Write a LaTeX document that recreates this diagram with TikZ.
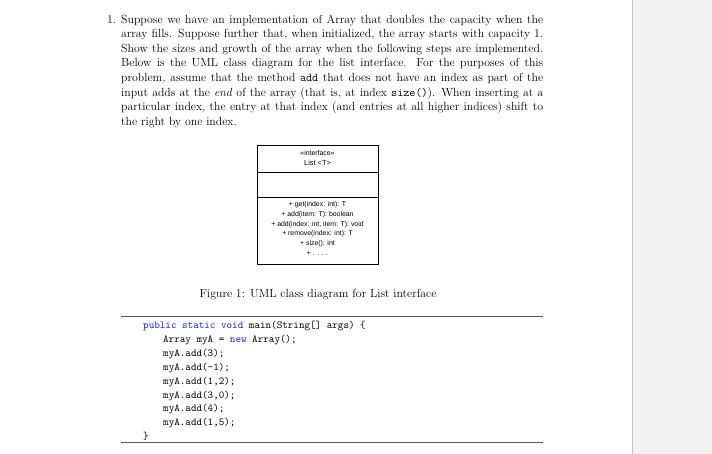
\documentclass[tikz,border=0pt]{standalone}
\usepackage{fontspec}
\newfontfamily\arialf{Liberation Sans}
\definecolor{kw}{RGB}{20,40,220}
\definecolor{pagegrey}{RGB}{242,242,242}
\definecolor{edge}{RGB}{190,196,206}
\begin{document}
\begin{tikzpicture}[x=1pt,y=-1pt,
  body/.style={anchor=north west,inner sep=0pt,text width=422pt,align=justify,font=\fontsize{11.8}{14.6}\selectfont},
  uml/.style={draw,line width=0.6pt,minimum width=121pt,inner sep=0pt},
  umltxt/.style={font=\arialf\fontsize{6.9}{9.7}\selectfont,align=center,inner sep=0pt},
  code/.style={anchor=base west,inner sep=0pt,font=\ttfamily\fontsize{10.6}{12}\selectfont},
  rulel/.style={draw=black!65,line width=0.8pt}]
\useasboundingbox (0,0) rectangle (712,454);
\fill[white] (0,0) rectangle (632,454);
\fill[pagegrey] (632,0) rectangle (712,454);
\draw[edge,line width=0.8pt] (632,0) -- (632,454);
% question
\node[anchor=base west,inner sep=0pt,font=\fontsize{11.8}{14}\selectfont] (num) at (107,24) {1.};
\node[body] (q) at (121,14.5) {Suppose we have an implementation of Array that doubles the capacity when the\linebreak
array fills. Suppose further that, when initialized, the array starts with capacity 1.\linebreak
Show the sizes and growth of the array when the following steps are implemented.\linebreak
Below is the UML class diagram for the list interface. For the purposes of this\linebreak
problem, assume that the method \texttt{add} that does not have an index as part of the\linebreak
input adds at the \emph{end} of the array (that is, at index \texttt{size()}). When inserting at a\linebreak
particular index, the entry at that index (and entries at all higher indices) shift to\linebreak
the right by one index.};
% UML
\node[uml,minimum height=27pt,anchor=north west] (top) at (257,145) {};
\node[uml,minimum height=25pt,anchor=north west] (mid) at (257,172) {};
\node[uml,minimum height=67pt,anchor=north west] (bot) at (257,197) {};
\node[umltxt] (st) at (317.5,153) {«interface»};
\node[umltxt,font=\arialf\fontsize{7.4}{8}\selectfont] (nm) at (317.5,163) {List <T>};
\node[umltxt,anchor=north] (meth) at (317.5,201.5) {+ get(index: int): T\\+ add(item: T): boolean\\+ add(index: int, item: T): void\\+ remove(index: int): T\\+ size(): int\\+ . . . .};
\node[anchor=base,inner sep=0pt,font=\fontsize{11.8}{14}\selectfont] (cap) at (318,298) {Figure 1: UML class diagram for List interface};
% code
\coordinate (r1a) at (121,316); \coordinate (r1b) at (543,316);
\coordinate (r2a) at (121,442); \coordinate (r2b) at (543,442);
\draw[rulel] (r1a) -- (r1b);
\draw[rulel] (r2a) -- (r2b);
\node[code] (c0) at (143,328.5) {\textcolor{kw}{public static void} main(String[] args) \{};
\node[code] (c1) at (163,342.4) {Array myA = \textcolor{kw}{new} Array();};
\node[code] (c2) at (163,356.3) {myA.add(3);};
\node[code] (c3) at (163,370.2) {myA.add(-1);};
\node[code] (c4) at (163,384.1) {myA.add(1,2);};
\node[code] (c5) at (163,398) {myA.add(3,0);};
\node[code] (c6) at (163,411.9) {myA.add(4);};
\node[code] (c7) at (163,425.8) {myA.add(1,5);};
\node[code] (c8) at (143,439.7) {\}};
\end{tikzpicture}
\end{document}
